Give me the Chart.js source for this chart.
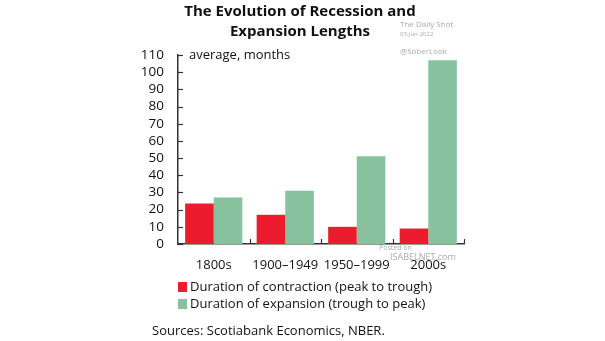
<!DOCTYPE html>
<html>
<head>
<meta charset="utf-8">
<script src="https://cdn.jsdelivr.net/npm/chart.js@4"></script>
<style>
  html, body { margin: 0; padding: 0; background: #fff; }
  #wrap { width: 605px; height: 341px; position: relative; }
</style>
</head>
<body>
<div id="wrap"><canvas id="recessionChart" width="605" height="341"></canvas></div>
<script>
    // Datos
    const categories = ['1800s', '1900–1949', '1950–1999', '2000s'];
    const contraction = [23.5, 17, 10, 9];
    const expansion = [27, 31, 51, 107];
    const yMin = 0, yMax = 110, yStep = 10;

    const RED = '#ec1c2e';
    const GREEN = '#86c29e';
    const FONT = '"Open Sans", "Noto Sans", sans-serif';

    // Marcas del eje y texto extra
    const extras = {
        id: 'extras',
        afterDraw(chart) {
            const ctx = chart.ctx;
            const x = chart.scales.x, y = chart.scales.y;
            const area = chart.chartArea;
            ctx.save();
            ctx.strokeStyle = '#333';
            ctx.lineWidth = 1.2;
            // ticks eje y hacia dentro
            for (let v = yMin; v <= yMax; v += yStep) {
                const py = Math.round(y.getPixelForValue(v)) + 0.5;
                ctx.beginPath();
                ctx.moveTo(area.left, py);
                ctx.lineTo(area.left + 5, py);
                ctx.stroke();
            }
            // ticks entre categorias
            for (let i = 0; i < categories.length; i++) {
                const px = Math.round((x.getPixelForValue(i) + x.getPixelForValue(i + 1)) / 2) + 0.5;
                ctx.beginPath();
                ctx.moveTo(px, area.bottom);
                ctx.lineTo(px, area.bottom - 5);
                ctx.stroke();
            }

            // titulo
            ctx.fillStyle = '#111';
            ctx.textAlign = 'center';
            ctx.textBaseline = 'middle';
            ctx.font = 'bold 15px ' + FONT;
            ctx.fillText('The Evolution of Recession and', 300, 12);
            ctx.fillText('Expansion Lengths', 300, 32);

            // unidad
            ctx.textAlign = 'left';
            ctx.font = '13px ' + FONT;
            ctx.fillText('average, months', 189, 55);

            // leyenda
            const items = [
                ['Duration of contraction (peak to trough)', chart.data.datasets[0].backgroundColor],
                ['Duration of expansion (trough to peak)', chart.data.datasets[1].backgroundColor]
            ];
            items.forEach(([txt, col], i) => {
                const cy = 287 + i * 17;
                ctx.fillStyle = col;
                ctx.fillRect(178, cy - 5, 9, 10);
                ctx.fillStyle = '#111';
                ctx.fillText(txt, 190, cy);
            });
            ctx.fillText('Sources: Scotiabank Economics, NBER.', 152, 331);

            // marcas de agua
            ctx.fillStyle = '#aaa';
            ctx.font = '8px ' + FONT;
            ctx.fillText('The Daily Shot', 400, 25);
            ctx.font = '6px ' + FONT;
            ctx.fillText('03-Jun-2022', 400, 34);
            ctx.font = '8px ' + FONT;
            ctx.fillText('@SoberLook', 400, 52);
            ctx.font = '7px ' + FONT;
            ctx.fillText('Posted on', 379, 248);
            ctx.font = '9px ' + FONT;
            ctx.fillText('ISABELNET.com', 390, 257);
            ctx.restore();
        }
    };

    const ctxRec = document.getElementById('recessionChart').getContext('2d');
    new Chart(ctxRec, {
        type: 'bar',
        data: {
            labels: categories,
            datasets: [{
                label: 'Duration of contraction (peak to trough)',
                data: contraction,
                backgroundColor: RED,
                borderWidth: 0
            }, {
                label: 'Duration of expansion (trough to peak)',
                data: expansion,
                backgroundColor: GREEN,
                borderWidth: 0
            }]
        },
        options: {
            responsive: false,
            animation: false,
            layout: { padding: { left: 128, right: 141, top: 55, bottom: 70 } },
            datasets: { bar: { categoryPercentage: 0.8, barPercentage: 1.0 } },
            plugins: {
                legend: { display: false },
                tooltip: { enabled: false }
            },
            scales: {
                x: {
                    afterFit(scale) { scale.height = 27; },
                    grid: { display: false, drawTicks: false },
                    border: { display: true, color: '#333', width: 1.5 },
                    ticks: { color: '#111', font: { family: FONT, size: 13 }, padding: 13,
                             maxRotation: 0, minRotation: 0, autoSkip: false }
                },
                y: {
                    min: yMin,
                    max: yMax,
                    afterFit(scale) { scale.width = 50; },
                    grid: { display: false, drawTicks: false },
                    border: { display: true, color: '#333', width: 1.5 },
                    ticks: { stepSize: yStep, color: '#111', font: { family: FONT, size: 13.5 }, padding: 14,
                             autoSkip: false }
                }
            }
        },
        plugins: [extras]
    });
</script>
</body>
</html>
